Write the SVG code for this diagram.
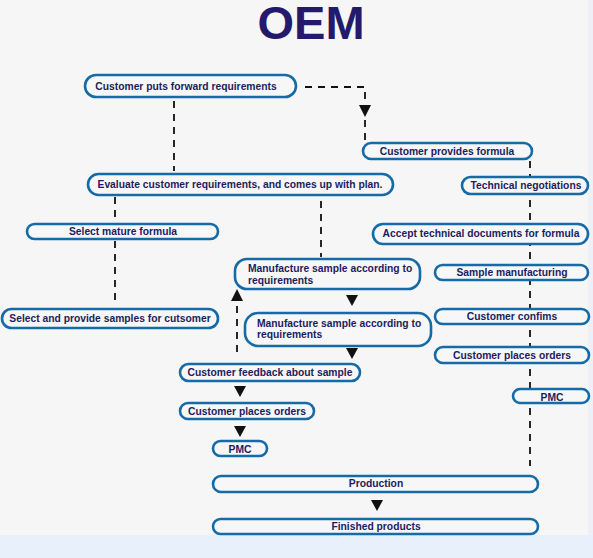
<svg xmlns="http://www.w3.org/2000/svg" width="593" height="558" viewBox="0 0 593 558">
<defs>
<style>
.n{fill:#f7f7f8;stroke:#156aa8;stroke-width:2.6}
.t{font-family:"Liberation Sans",Arial,sans-serif;font-weight:bold;font-size:10.3px;fill:#221c5e}
.tc{text-anchor:middle}
.d{stroke:#111;stroke-width:1.8;stroke-dasharray:7,6;fill:none}
.a{fill:#111}
</style>
</defs>
<rect width="593" height="558" fill="#f6f6f6"/>
<rect x="0" y="535" width="593" height="23" fill="#e8f0fc"/>
<rect x="588" y="0" width="5" height="535" fill="#eef0f8"/>
<text x="311" y="39" text-anchor="middle" font-family="Liberation Sans,Arial,sans-serif" font-weight="bold" font-size="47" fill="#231a6c">OEM</text>

<g id="connectors">
<path class="d" d="M305 87 H365 V105"/>
<path class="a" d="M359 105 H371 L365 117 Z"/>
<path class="d" d="M365 120 V142"/>
<path class="d" d="M174 101 V171"/>
<path class="d" d="M115 197 V222"/>
<path class="d" d="M115 241 V305"/>
<path class="d" d="M321 201 V257"/>
<path class="d" d="M530 161 V466"/>
<path class="d" d="M237 352 V301"/>
<path class="a" d="M231 301 H243 L237 289 Z"/>
<path class="a" d="M346 295 H358 L352 306 Z"/>
<path class="a" d="M346 348 H358 L352 359 Z"/>
<path class="a" d="M234 386 H246 L240 397 Z"/>
<path class="a" d="M234 426 H246 L240 437 Z"/>
<path class="a" d="M371 500 H383 L377 511 Z"/>
</g>

<g id="n1"><rect class="n" x="85" y="75" width="211" height="22" rx="11"/><text class="t tc" x="186" y="90">Customer puts forward requirements</text></g>
<g id="n2"><rect class="n" x="363" y="143" width="169" height="16" rx="8"/><text class="t tc" x="447" y="155">Customer provides formula</text></g>
<g id="n3"><rect class="n" x="88" y="174" width="305" height="21" rx="10.5"/><text class="t tc" x="240" y="188">Evaluate customer requirements, and comes up with plan.</text></g>
<g id="n4"><rect class="n" x="462" y="177" width="126" height="17" rx="8.5"/><text class="t tc" x="526" y="189">Technical negotiations</text></g>
<g id="n5"><rect class="n" x="27" y="224" width="191" height="15" rx="7.5"/><text class="t tc" x="123" y="235">Select mature formula</text></g>
<g id="n6"><rect class="n" x="373" y="224" width="215" height="20" rx="10"/><text class="t tc" x="481" y="237">Accept technical documents for formula</text></g>
<g id="n7"><rect class="n" x="235" y="259" width="185" height="30" rx="12"/><text class="t" x="248" y="272">Manufacture sample according to</text><text class="t" x="248" y="284">requirements</text></g>
<g id="n8"><rect class="n" x="435" y="265" width="153" height="15" rx="7.5"/><text class="t tc" x="512" y="276">Sample manufacturing</text></g>
<g id="n9"><rect class="n" x="2" y="309" width="216" height="19" rx="9.5"/><text class="t tc" x="110" y="322">Select and provide samples for cutsomer</text></g>
<g id="n10"><rect class="n" x="245" y="313" width="186" height="33" rx="13"/><text class="t" x="257" y="327">Manufacture sample according to</text><text class="t" x="257" y="338">requirements</text></g>
<g id="n11"><rect class="n" x="435" y="309" width="154" height="15" rx="7.5"/><text class="t tc" x="512" y="320">Customer confims</text></g>
<g id="n12"><rect class="n" x="435" y="347" width="154" height="16" rx="8"/><text class="t tc" x="512" y="359">Customer places orders</text></g>
<g id="n13"><rect class="n" x="180" y="364" width="180" height="17" rx="8.5"/><text class="t tc" x="270" y="376">Customer feedback about sample</text></g>
<g id="n14"><rect class="n" x="513" y="389" width="76" height="14" rx="7"/><text class="t tc" x="552" y="401" font-size="12.5">PMC</text></g>
<g id="n15"><rect class="n" x="180" y="403" width="134" height="16" rx="8"/><text class="t tc" x="247" y="415">Customer places orders</text></g>
<g id="n16"><rect class="n" x="213" y="441" width="54" height="15" rx="7.5"/><text class="t tc" x="240" y="453" font-size="12.5">PMC</text></g>
<g id="n17"><rect class="n" x="213" y="476" width="325" height="16" rx="8"/><text class="t tc" x="376" y="487">Production</text></g>
<g id="n18"><rect class="n" x="213" y="519" width="325" height="15" rx="7.5"/><text class="t tc" x="376" y="530">Finished products</text></g>
</svg>
